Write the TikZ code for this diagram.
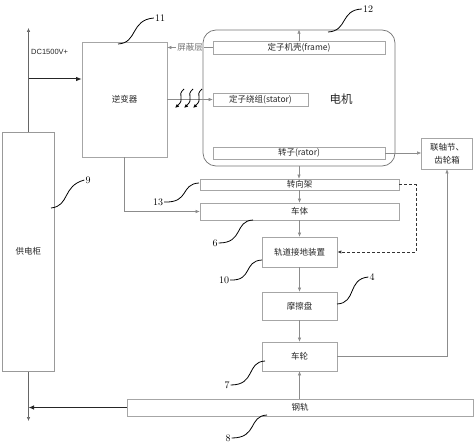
\documentclass[tikz,border=0pt]{standalone}
\usepackage{fontspec}
\newfontfamily\cjk{Noto Sans CJK SC}
\newfontfamily\lsans{Liberation Sans}
\usetikzlibrary{arrows.meta}
\begin{document}
\begin{tikzpicture}[x=1pt,y=-1pt,
  box/.style={draw=black!35,line width=0.6pt,inner sep=0pt,font=\cjk\fontsize{8.5}{10}\selectfont,text=black!85},
  conn/.style={draw=black!45,line width=0.5pt},
  tip/.style={-{Latex[length=4pt,width=3.4pt]}},
  heavy/.style={draw=black!85,line width=1pt,-{Latex[length=5.5pt,width=4.5pt]}},
  lead/.style={draw=black,line width=0.8pt},
  num/.style={font=\fontsize{10}{12}\selectfont,inner sep=1pt}]
\useasboundingbox (0,0) rectangle (474,444);
% boxes
\node[box,minimum width=85pt,minimum height=115pt] (inv) at (124.5,99.5) {逆变器};
\node[draw=black!55,line width=0.7pt,rounded corners=13pt,minimum width=192pt,minimum height=136pt,inner sep=0pt] (motor) at (299,98) {};
\node[font=\cjk\fontsize{11.5}{13}\selectfont,text=black!85] (mlabel) at (341,99.5) {电机};
\node[box,minimum width=172pt,minimum height=13pt] (frame) at (299,47.5) {定子机壳(frame)};
\node[box,minimum width=95pt,minimum height=13pt] (stator) at (260.5,99.5) {定子绕组(stator)};
\node[box,minimum width=172pt,minimum height=12pt] (rotor) at (299,153) {转子(rator)};
\node[box,minimum width=51pt,minimum height=31pt,align=center,font=\cjk\fontsize{8.5}{13}\selectfont] (coup) at (447,153.5) {联轴节、\\齿轮箱};
\node[box,minimum width=199pt,minimum height=11pt] (bogie) at (299.5,184.5) {转向架};
\node[box,minimum width=199pt,minimum height=17pt] (body) at (299.5,211.5) {车体};
\node[box,minimum width=75pt,minimum height=30pt] (ground) at (299.5,252) {轨道接地装置};
\node[box,minimum width=75pt,minimum height=28pt] (disc) at (299.5,306) {摩擦盘};
\node[box,minimum width=75pt,minimum height=29pt] (wheel) at (299.5,356.5) {车轮};
\node[box,minimum width=346pt,minimum height=17pt] (rail) at (300,407.5) {钢轨};
\node[box,draw=black!40,line width=1pt,minimum width=52pt,minimum height=239pt] (cab) at (28.5,251.5) {供电柜};
\node[font=\lsans\fontsize{7.5}{9}\selectfont,text=black!85,anchor=west,inner sep=0pt] (dc) at (31,52) {DC1500V+};
\node[font=\cjk\fontsize{8.5}{10}\selectfont,text=black!55,inner sep=1pt] (shield) at (190,47.5) {屏蔽层};
% coordinates
\coordinate (dctop) at (28.5,28);
\coordinate (dcj) at (28.5,79);
\coordinate (cabend) at (28.5,421);
\coordinate (dashc) at (416,184.5);
% connectors
\draw[conn,tip,draw=black!60] (cab.north) -- (dctop);
\draw[heavy] (dcj) -- (dcj -| inv.west);
\draw[conn,tip] (shield.west) -- (shield.west -| inv.east);
\draw[conn] (frame.west) -- (shield.east);
\draw[conn,tip] (inv.east) -- (stator.west);
\draw[conn,tip] (frame.north) -- (motor.north);
\draw[conn,tip] (motor.south) -- (motor.south |- bogie.north);
\draw[conn,tip] (rotor.east) -- (rotor.east -| coup.west);
\draw[conn,tip] (bogie.south) -- (body.north);
\draw[conn,tip] (inv.south) |- (body.west);
\draw[conn,tip] (body.south) -- (ground.north);
\draw[draw=black!80,line width=0.8pt,dash pattern=on 3pt off 2pt,tip] (bogie.east) -- (dashc) |- (ground.east);
\draw[conn,tip] (ground.south) -- (disc.north);
\draw[conn,tip] (disc.south) -- (wheel.north);
\draw[conn,tip] (wheel.east) -| (coup.south);
\draw[conn,tip] (wheel.south |- rail.north) -- (wheel.south);
\draw[heavy] (rail.west) -- (rail.west -| cab.south);
\draw[conn,tip,draw=black!60] (cab.south) -- (cabend);
% interference arrows
\foreach \dx in {0,9,18}{
  \draw[draw=black,line width=0.8pt,-{Latex[length=4pt,width=3.6pt]}] (184+\dx,89) .. controls (176+\dx,96) and (186+\dx,98) .. (175+\dx,108);
}
% leader labels
\node[num] (n11) at (160,18) {11};
\node[num] (n12) at (368,9) {12};
\node[num] (n9) at (88,180) {9};
\node[num] (n13) at (158,202) {13};
\node[num] (n6) at (215,243) {6};
\node[num] (n10) at (224,280) {10};
\node[num] (n4) at (372,277) {4};
\node[num] (n7) at (227,385) {7};
\node[num] (n8) at (228,438) {8};
\coordinate (c11) at (118,44);
\coordinate (c12) at (328,32);
\coordinate (c9) at (51,208);
\coordinate (c13) at (199,183);
\coordinate (c6) at (253,220);
\coordinate (c10) at (262,260);
\coordinate (c4) at (337,304);
\coordinate (c7) at (265,361);
\coordinate (c8) at (267,415);
\draw[lead] (c11) .. controls (138,43) and (130,20) .. (n11.west);
\draw[lead] (c12) .. controls (348,31) and (340,10) .. (n12.west);
\draw[lead] (c9) .. controls (70,206) and (62,186) .. (n9.west);
\draw[lead] (c13) .. controls (180,184) and (190,203) .. (n13.east);
\draw[lead] (c6) .. controls (234,221) and (244,243) .. (n6.east);
\draw[lead] (c10) .. controls (243,261) and (253,281) .. (n10.east);
\draw[lead] (c4) .. controls (357,303) and (347,279) .. (n4.west);
\draw[lead] (c7) .. controls (246,362) and (256,385) .. (n7.east);
\draw[lead] (c8) .. controls (248,416) and (258,438) .. (n8.east);
\end{tikzpicture}
\end{document}
